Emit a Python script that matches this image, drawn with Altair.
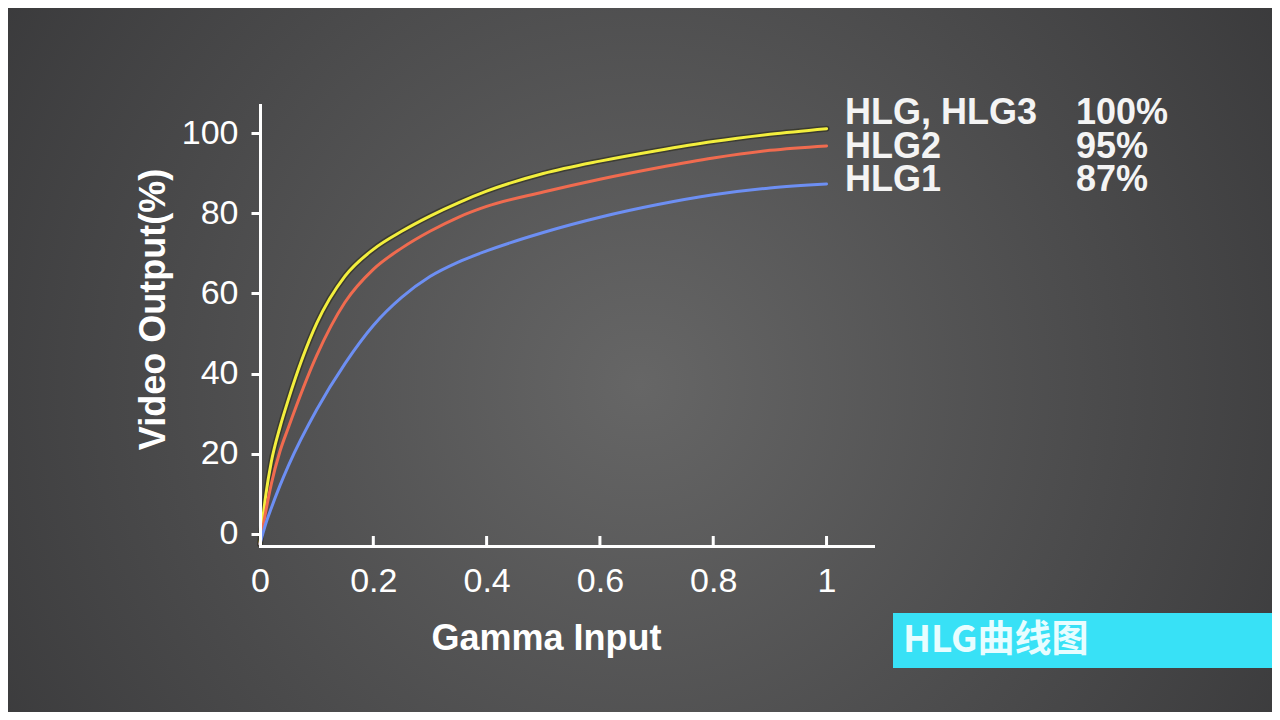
import altair as alt
import pandas as pd

# ---- data ----
series_names = ["HLG, HLG3", "HLG2", "HLG1"]
series_pct = ["100%", "95%", "87%"]
series_colors = ["#f3ef3d", "#f06b4f", "#6d8ff3"]

grid_x = [0, 0.01, 0.02, 0.035, 0.05, 0.1, 0.15, 0.2, 0.25, 0.3, 0.35, 0.4, 0.5, 0.6, 0.7, 0.8, 0.9, 1.0]
yellow_y = [-2.5, 9.5, 18.0, 26.5, 33.5, 52.5, 64.3, 71.0, 75.5, 79.3, 82.6, 85.5, 89.9, 93.0, 95.6, 97.9, 99.7, 101.1]
red_y = [-2.5, 5.5, 12.5, 20.5, 26.5, 44.5, 57.8, 66.0, 71.3, 75.5, 79.0, 81.7, 85.3, 88.5, 91.3, 93.8, 95.7, 96.8]
blue_y = [-2.5, 2.5, 6.5, 12.0, 17.0, 31.0, 42.5, 52.0, 59.0, 64.2, 67.8, 70.6, 75.2, 79.0, 82.1, 84.6, 86.3, 87.3]

x_ticks = [0, 0.2, 0.4, 0.6, 0.8, 1]
y_ticks = [0, 20, 40, 60, 80, 100]

banner_text = ["HLG曲线图"]

rows = []
for name, ys in zip(series_names, [yellow_y, red_y, blue_y]):
    for i, (a, b) in enumerate(zip(grid_x, ys)):
        rows.append({"series": name, "x": a, "y": b, "order": i})
df = pd.DataFrame(rows)

df_ticks = pd.DataFrame({"x": x_ticks[1:]})
df_leg = pd.DataFrame({"name": series_names, "pct": series_pct, "row": [0, 1, 2]})
df_one = pd.DataFrame({"label": banner_text})

W, H = 613, 441
FONT = "Liberation Sans"

x_enc = alt.X(
    "x:Q",
    scale=alt.Scale(domain=[0, 1.082], nice=False, zero=False),
    axis=alt.Axis(
        values=x_ticks, format="~g", title="Gamma Input",
        ticks=False, tickSize=0, labelPadding=18, labelFlush=False, zindex=2,
        titleX=286, titleY=92, titleBaseline="middle", titleAlign="center",
    ),
)
y_enc = alt.Y(
    "y:Q",
    scale=alt.Scale(domain=[-3, 107], nice=False, zero=False),
    axis=alt.Axis(
        values=y_ticks, format="d", title="Video Output(%)", zindex=2,
        ticks=True, tickSize=9, tickWidth=3, tickColor="white", labelPadding=13,
        titleX=-107, titleY=204, titleBaseline="middle", titleAlign="center", titleAngle=-90,
    ),
)

bg = alt.Chart(df_one).mark_rect(
    fill={
        "gradient": "radial",
        "x1": 0.5, "y1": 0.52, "r1": 0,
        "x2": 0.5, "y2": 0.52, "r2": 0.75,
        "stops": [
            {"offset": 0, "color": "#666666"},
            {"offset": 0.5, "color": "#4a4a4b"},
            {"offset": 1, "color": "#2f2f31"},
        ],
    }
).encode(x=alt.value(-252), x2=alt.value(1012), y=alt.value(-97), y2=alt.value(607))

outline = alt.Chart(df).transform_filter(
    alt.datum.series == series_names[0]
).mark_line(strokeWidth=6, color="#262614", opacity=0.55, interpolate="monotone", strokeCap="round").encode(
    x=x_enc, y=y_enc, order="order:Q"
)

lines = alt.Chart(df).mark_line(strokeWidth=3, interpolate="monotone", strokeCap="round").encode(
    x=x_enc, y=y_enc, order="order:Q",
    color=alt.Color("series:N", scale=alt.Scale(domain=series_names, range=series_colors), legend=None),
)

ticks = alt.Chart(df_ticks).mark_rule(color="white", strokeWidth=3).encode(
    x=x_enc, y=alt.value(H - 10), y2=alt.value(H)
)

legend_layers = []
row_y = [8, 42, 75]
for i in range(3):
    base = alt.Chart(df_leg).transform_filter(alt.datum.row == i)
    for field, px in [("name", 585), ("pct", 816)]:
        legend_layers.append(
            base.mark_text(
                font=FONT, fontSize=36, fontWeight="bold", color="#f4f4f4",
                align="left", baseline="middle",
            ).encode(x=alt.value(px), y=alt.value(row_y[i]), text=f"{field}:N")
        )

banner = alt.Chart(df_one).mark_rect(color="#38e1f6").encode(
    x=alt.value(633), x2=alt.value(1012), y=alt.value(508), y2=alt.value(563)
)
banner_lbl = alt.Chart(df_one).mark_text(
    font="Noto Sans CJK SC", fontSize=37, fontWeight="bold", color="#e8fdff",
    align="left", baseline="middle",
).encode(x=alt.value(643), y=alt.value(536), text="label:N")

chart = alt.layer(
    bg, outline, lines, ticks, *legend_layers, banner, banner_lbl
).properties(
    width=W, height=H,
    padding={"left": 252, "top": 97, "right": 399, "bottom": 166},
    autosize=alt.AutoSizeParams(type="none"),
).configure(
    background="#3b3b3d",
).configure_view(
    stroke=None,
).configure_axis(
    grid=False,
    domainColor="white", domainWidth=3, domainCap="square",
    labelColor="white", labelFont=FONT, labelFontSize=34,
    titleColor="white", titleFont=FONT, titleFontSize=36, titleFontWeight="bold",
)

chart.save("out.html", embed_options={"renderer": "svg", "actions": False})
